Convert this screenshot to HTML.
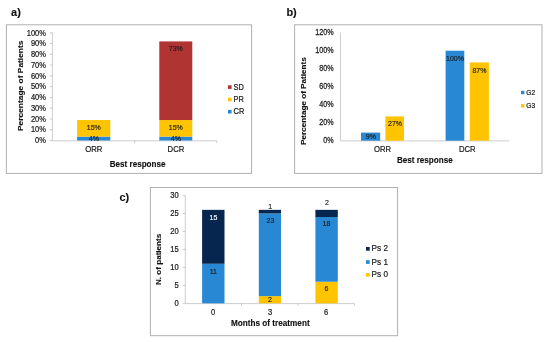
<!DOCTYPE html>
<html>
<head>
<meta charset="utf-8">
<title>Figure</title>
<style>
html,body{margin:0;padding:0;background:#fff;}
body{width:550px;height:342px;overflow:hidden;}
svg{display:block;font-family:"Liberation Sans",Arial,sans-serif;}
.t{fill:#1a1a1a;stroke:#1a1a1a;stroke-width:0.2px;}
.l{fill:#1a1a1a;stroke:#1a1a1a;stroke-width:0.14px;}
.b{font-weight:bold;fill:#111;stroke:#111;stroke-width:0.12px;}
.ax{stroke:#b8b8b8;stroke-width:0.7;fill:none;}
.bd{stroke:#b0b0b0;stroke-width:1;fill:none;}
</style>
</head>
<body>
<svg width="550" height="342" viewBox="0 0 550 342">
<rect width="550" height="342" fill="#fff"/>
<!-- chart a -->
<text class="b" transform="translate(11.1,15.7) scale(1,1.02)" text-anchor="start" style="font-size:11px">a)</text>
<rect x="6.4" y="24.8" width="245.2" height="148.6" class="bd"/>
<path class="ax" d="M52.4 32.80V140.8H216.8"/>
<path class="ax" d="M49.8 140.50H52.4M49.8 129.73H52.4M49.8 118.96H52.4M49.8 108.19H52.4M49.8 97.42H52.4M49.8 86.65H52.4M49.8 75.88H52.4M49.8 65.11H52.4M49.8 54.34H52.4M49.8 43.57H52.4M49.8 32.80H52.4"/>
<path class="ax" d="M134.5 140.5v2.6M216.8 140.5v2.6"/>
<text class="t" transform="translate(45.9,143.25) scale(1,1.1)" text-anchor="end" style="font-size:7.5px">0%</text>
<text class="t" transform="translate(45.9,132.48) scale(1,1.1)" text-anchor="end" style="font-size:7.5px">10%</text>
<text class="t" transform="translate(45.9,121.71) scale(1,1.1)" text-anchor="end" style="font-size:7.5px">20%</text>
<text class="t" transform="translate(45.9,110.94) scale(1,1.1)" text-anchor="end" style="font-size:7.5px">30%</text>
<text class="t" transform="translate(45.9,100.17) scale(1,1.1)" text-anchor="end" style="font-size:7.5px">40%</text>
<text class="t" transform="translate(45.9,89.4) scale(1,1.1)" text-anchor="end" style="font-size:7.5px">50%</text>
<text class="t" transform="translate(45.9,78.63) scale(1,1.1)" text-anchor="end" style="font-size:7.5px">60%</text>
<text class="t" transform="translate(45.9,67.86) scale(1,1.1)" text-anchor="end" style="font-size:7.5px">70%</text>
<text class="t" transform="translate(45.9,57.09) scale(1,1.1)" text-anchor="end" style="font-size:7.5px">80%</text>
<text class="t" transform="translate(45.9,46.32) scale(1,1.1)" text-anchor="end" style="font-size:7.5px">90%</text>
<text class="t" transform="translate(45.9,35.55) scale(1,1.1)" text-anchor="end" style="font-size:7.5px">100%</text>
<text class="b" transform="translate(23.2,85.8) rotate(-90) scale(1,0.93)" text-anchor="middle" style="font-size:8.4px">Percentage of Patients</text>
<rect x="77.10" y="136.60" width="33.20" height="3.90" fill="#2888d4"/>
<rect x="77.10" y="120.04" width="33.20" height="16.56" fill="#ffc400"/>
<rect x="159.30" y="136.60" width="33.00" height="3.90" fill="#2888d4"/>
<rect x="159.30" y="120.04" width="33.00" height="16.56" fill="#ffc400"/>
<rect x="159.30" y="41.42" width="33.00" height="78.62" fill="#b03532"/>
<text class="l" transform="translate(93.8,129.9) scale(1,1.1)" text-anchor="middle" style="font-size:7px">15%</text>
<text class="l" transform="translate(93.8,140.7) scale(1,1.1)" text-anchor="middle" style="font-size:7px">4%</text>
<text class="l" transform="translate(175.8,129.9) scale(1,1.1)" text-anchor="middle" style="font-size:7px">15%</text>
<text class="l" transform="translate(175.8,140.7) scale(1,1.1)" text-anchor="middle" style="font-size:7px">4%</text>
<text class="l" transform="translate(175.8,50.9) scale(1,1.1)" text-anchor="middle" style="font-size:7px">73%</text>
<text class="t" transform="translate(93.8,152.1) scale(1,1.1)" text-anchor="middle" style="font-size:7.7px">ORR</text>
<text class="t" transform="translate(175.9,152.1) scale(1,1.1)" text-anchor="middle" style="font-size:7.7px">DCR</text>
<text class="b" transform="translate(137.6,167.4) scale(1,1.1)" text-anchor="middle" style="font-size:8.1px">Best response</text>
<rect x="228.00" y="85.30" width="3.60" height="3.60" fill="#b03532"/>
<text class="t" transform="translate(233.6,89.8) scale(1,1.2)" text-anchor="start" style="font-size:7.4px">SD</text>
<rect x="228.00" y="97.70" width="3.60" height="3.60" fill="#ffc400"/>
<text class="t" transform="translate(233.6,102.2) scale(1,1.2)" text-anchor="start" style="font-size:7.4px">PR</text>
<rect x="228.00" y="109.90" width="3.60" height="3.60" fill="#2888d4"/>
<text class="t" transform="translate(233.6,114.4) scale(1,1.2)" text-anchor="start" style="font-size:7.4px">CR</text>
<!-- chart b -->
<text class="b" transform="translate(286.4,15.7) scale(1,1.02)" text-anchor="start" style="font-size:11px">b)</text>
<rect x="294.6" y="24.8" width="247.4" height="148.6" class="bd"/>
<path class="ax" d="M340.5 32.70V140.89999999999998H509.3"/>
<text class="t" transform="translate(333.7,143.4) scale(1,1.25)" text-anchor="end" style="font-size:7.2px">0%</text>
<text class="t" transform="translate(333.7,125.4) scale(1,1.25)" text-anchor="end" style="font-size:7.2px">20%</text>
<text class="t" transform="translate(333.7,107.4) scale(1,1.25)" text-anchor="end" style="font-size:7.2px">40%</text>
<text class="t" transform="translate(333.7,89.4) scale(1,1.25)" text-anchor="end" style="font-size:7.2px">60%</text>
<text class="t" transform="translate(333.7,71.4) scale(1,1.25)" text-anchor="end" style="font-size:7.2px">80%</text>
<text class="t" transform="translate(333.7,53.4) scale(1,1.25)" text-anchor="end" style="font-size:7.2px">100%</text>
<text class="t" transform="translate(333.7,35.4) scale(1,1.25)" text-anchor="end" style="font-size:7.2px">120%</text>
<text class="b" transform="translate(306.4,101.1) rotate(-90) scale(1,0.93)" text-anchor="middle" style="font-size:8.15px">Percentage of Patients</text>
<rect x="361.00" y="132.60" width="19.20" height="8.10" fill="#2888d4"/>
<rect x="385.40" y="116.40" width="18.60" height="24.30" fill="#ffc400"/>
<rect x="445.60" y="50.70" width="18.70" height="90.00" fill="#2888d4"/>
<rect x="469.80" y="62.40" width="19.10" height="78.30" fill="#ffc400"/>
<text class="l" transform="translate(370.8,139) scale(1,1.1)" text-anchor="middle" style="font-size:7px">9%</text>
<text class="l" transform="translate(395,126) scale(1,1.1)" text-anchor="middle" style="font-size:7px">27%</text>
<text class="l" transform="translate(455,60.5) scale(1,1.1)" text-anchor="middle" style="font-size:7px">100%</text>
<text class="l" transform="translate(479.4,72.5) scale(1,1.1)" text-anchor="middle" style="font-size:7px">87%</text>
<text class="t" transform="translate(382.6,152.2) scale(1,1.1)" text-anchor="middle" style="font-size:7.7px">ORR</text>
<text class="t" transform="translate(467.2,152.2) scale(1,1.1)" text-anchor="middle" style="font-size:7.7px">DCR</text>
<text class="b" transform="translate(424.8,163.2) scale(1,1.1)" text-anchor="middle" style="font-size:8.1px">Best response</text>
<rect x="521.00" y="90.80" width="3.40" height="3.40" fill="#2888d4"/>
<text class="t" transform="translate(526.3,94.89999999999999) scale(1,1.1)" text-anchor="start" style="font-size:6.6px">G2</text>
<rect x="521.00" y="104.10" width="3.40" height="3.40" fill="#ffc400"/>
<text class="t" transform="translate(526.3,108.19999999999999) scale(1,1.1)" text-anchor="start" style="font-size:6.6px">G3</text>
<!-- chart c -->
<text class="b" transform="translate(119.4,200.7) scale(1,1.02)" text-anchor="start" style="font-size:11px">c)</text>
<rect x="150.4" y="187.5" width="247.2" height="148.2" class="bd"/>
<path class="ax" d="M185.3 195.48V303.6H354.4"/>
<path class="ax" d="M182.70000000000002 303.30H185.3M182.70000000000002 285.33H185.3M182.70000000000002 267.36H185.3M182.70000000000002 249.39H185.3M182.70000000000002 231.42H185.3M182.70000000000002 213.45H185.3M182.70000000000002 195.48H185.3"/>
<path class="ax" d="M241.5 303.3v2.6M297.9 303.3v2.6M354.4 303.3v2.6"/>
<text class="t" transform="translate(178.7,306.1) scale(1,1.1)" text-anchor="end" style="font-size:7.6px">0</text>
<text class="t" transform="translate(178.7,288.13) scale(1,1.1)" text-anchor="end" style="font-size:7.6px">5</text>
<text class="t" transform="translate(178.7,270.16) scale(1,1.1)" text-anchor="end" style="font-size:7.6px">10</text>
<text class="t" transform="translate(178.7,252.19) scale(1,1.1)" text-anchor="end" style="font-size:7.6px">15</text>
<text class="t" transform="translate(178.7,234.22) scale(1,1.1)" text-anchor="end" style="font-size:7.6px">20</text>
<text class="t" transform="translate(178.7,216.25) scale(1,1.1)" text-anchor="end" style="font-size:7.6px">25</text>
<text class="t" transform="translate(178.7,198.28) scale(1,1.1)" text-anchor="end" style="font-size:7.6px">30</text>
<text class="b" transform="translate(161.4,259.4) rotate(-90) scale(1,0.93)" text-anchor="middle" style="font-size:8.1px">N. of patients</text>
<rect x="202.10" y="263.77" width="22.40" height="39.53" fill="#2888d4"/>
<rect x="202.10" y="209.86" width="22.40" height="53.91" fill="#06264f"/>
<rect x="258.80" y="296.11" width="22.20" height="7.19" fill="#ffc400"/>
<rect x="258.80" y="213.45" width="22.20" height="82.66" fill="#2888d4"/>
<rect x="258.80" y="209.86" width="22.20" height="3.59" fill="#06264f"/>
<rect x="315.40" y="281.74" width="22.40" height="21.56" fill="#ffc400"/>
<rect x="315.40" y="217.04" width="22.40" height="64.69" fill="#2888d4"/>
<rect x="315.40" y="209.86" width="22.40" height="7.19" fill="#06264f"/>
<text class="l" transform="translate(213.4,219.7) scale(1,1.1)" text-anchor="middle" style="font-size:7px;fill:#fff;stroke:#fff">15</text>
<text class="l" transform="translate(213.3,274.4) scale(1,1.1)" text-anchor="middle" style="font-size:7px">11</text>
<text class="l" transform="translate(270.3,208.8) scale(1,1.1)" text-anchor="middle" style="font-size:7px">1</text>
<text class="l" transform="translate(270.4,223.4) scale(1,1.1)" text-anchor="middle" style="font-size:7px">23</text>
<text class="l" transform="translate(270,301.8) scale(1,1.1)" text-anchor="middle" style="font-size:7px">2</text>
<text class="l" transform="translate(327,205) scale(1,1.1)" text-anchor="middle" style="font-size:7px">2</text>
<text class="l" transform="translate(326.5,226.2) scale(1,1.1)" text-anchor="middle" style="font-size:7px">18</text>
<text class="l" transform="translate(326.5,291.4) scale(1,1.1)" text-anchor="middle" style="font-size:7px">6</text>
<text class="t" transform="translate(213.2,315) scale(1,1.1)" text-anchor="middle" style="font-size:7.6px">0</text>
<text class="t" transform="translate(270,315) scale(1,1.1)" text-anchor="middle" style="font-size:7.6px">3</text>
<text class="t" transform="translate(326.2,315) scale(1,1.1)" text-anchor="middle" style="font-size:7.6px">6</text>
<text class="b" transform="translate(270.3,326) scale(1,1.1)" text-anchor="middle" style="font-size:8.2px">Months of treatment</text>
<rect x="366.00" y="247.00" width="3.70" height="3.70" fill="#06264f"/>
<text class="t" transform="translate(371.6,251.4) scale(1,1.1)" text-anchor="start" style="font-size:8.2px">Ps 2</text>
<rect x="366.00" y="260.20" width="3.70" height="3.70" fill="#2888d4"/>
<text class="t" transform="translate(371.6,264.59999999999997) scale(1,1.1)" text-anchor="start" style="font-size:8.2px">Ps 1</text>
<rect x="366.00" y="273.00" width="3.70" height="3.70" fill="#ffc400"/>
<text class="t" transform="translate(371.6,277.4) scale(1,1.1)" text-anchor="start" style="font-size:8.2px">Ps 0</text>
</svg>
</body>
</html>
